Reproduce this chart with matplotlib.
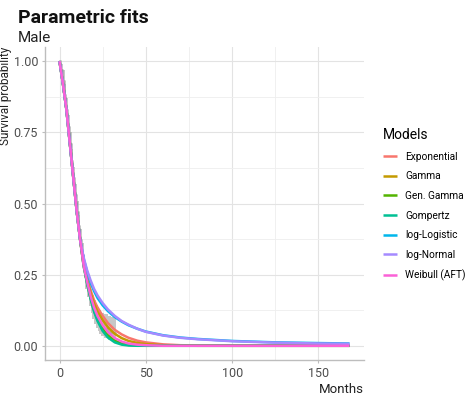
import matplotlib
matplotlib.use("Agg")
import matplotlib.pyplot as plt

plt.rcParams['font.family'] = ['Roboto', 'DejaVu Sans']

# fitted survival curves
t = [0, 2, 4, 6, 8, 10, 12, 14, 16, 18, 20, 22, 25, 28, 32, 36, 40, 45, 50,
     60, 70, 80, 100, 125, 150, 168]
head = [1.00, 0.92, 0.83, 0.71, 0.59, 0.47, 0.37]
s_exponential = head + [0.29, 0.24, 0.195, 0.16, 0.135, 0.105, 0.08, 0.056, 0.04, 0.028,
                        0.018, 0.012, 0.005, 0.002, 0.001, 0.0, 0.0, 0.0, 0.0]
s_gamma = head + [0.285, 0.23, 0.185, 0.148, 0.12, 0.09, 0.065, 0.042, 0.027, 0.017,
                  0.010, 0.006, 0.002, 0.0005, 0.0, 0.0, 0.0, 0.0, 0.0]
s_gengamma = head + [0.28, 0.22, 0.168, 0.125, 0.093, 0.06, 0.037, 0.018, 0.008, 0.003,
                     0.001, 0.0, 0.0, 0.0, 0.0, 0.0, 0.0, 0.0, 0.0]
s_gompertz = head + [0.28, 0.218, 0.165, 0.12, 0.087, 0.052, 0.029, 0.012, 0.004, 0.001,
                     0.0, 0.0, 0.0, 0.0, 0.0, 0.0, 0.0, 0.0, 0.0]
s_loglogistic = head + [0.305, 0.26, 0.222, 0.192, 0.168, 0.142, 0.122, 0.101, 0.085, 0.072,
                        0.06, 0.05, 0.037, 0.029, 0.024, 0.017, 0.012, 0.0095, 0.008]
s_lognormal = head + [0.31, 0.265, 0.23, 0.20, 0.177, 0.15, 0.128, 0.105, 0.087, 0.074,
                      0.06, 0.049, 0.036, 0.028, 0.023, 0.016, 0.011, 0.008, 0.007]
s_weibull = head + [0.28, 0.225, 0.175, 0.135, 0.105, 0.072, 0.048, 0.027, 0.015, 0.008,
                    0.004, 0.002, 0.0, 0.0, 0.0, 0.0, 0.0, 0.0, 0.0]

models = ["Exponential", "Gamma", "Gen. Gamma", "Gompertz", "log-Logistic",
          "log-Normal", "Weibull (AFT)"]
curves = [s_exponential, s_gamma, s_gengamma, s_gompertz, s_loglogistic,
          s_lognormal, s_weibull]
colors = ["#F8766D", "#C49A00", "#53B400", "#00C094", "#00B6EB", "#A58AFF", "#FB61D7"]

# Kaplan-Meier estimate with confidence band
km_t = [0, 1, 2, 3, 4, 5, 6, 7, 8, 9, 10, 11, 12, 13, 14, 15, 16, 17, 18, 19, 20,
        21, 22, 23, 24, 26, 28, 30, 33]
km_s = [1.0, 0.97, 0.93, 0.88, 0.83, 0.77, 0.71, 0.65, 0.59, 0.53, 0.47, 0.42, 0.37,
        0.32, 0.28, 0.24, 0.21, 0.18, 0.155, 0.135, 0.115, 0.10, 0.09, 0.08, 0.07,
        0.06, 0.05, 0.045, 0.04]
km_lo = [1.0, 0.94, 0.89, 0.84, 0.79, 0.73, 0.67, 0.61, 0.55, 0.49, 0.43, 0.38, 0.33,
         0.28, 0.24, 0.20, 0.17, 0.14, 0.115, 0.095, 0.075, 0.062, 0.052, 0.043, 0.035,
         0.028, 0.022, 0.018, 0.015]
km_hi = [1.0, 0.99, 0.97, 0.92, 0.87, 0.81, 0.75, 0.69, 0.63, 0.57, 0.51, 0.46, 0.41,
         0.36, 0.32, 0.28, 0.25, 0.22, 0.20, 0.18, 0.16, 0.145, 0.135, 0.125, 0.115,
         0.11, 0.105, 0.10, 0.10]

fig = plt.figure(figsize=(4.74, 3.95), dpi=100)
ax = fig.add_axes([0.095, 0.0886, 0.673, 0.7924])

ax.fill_between(km_t, km_lo, km_hi, step="post", color="#b0b0b0", alpha=0.7, lw=0)
ax.step(km_t, km_s, where="post", color="#9e9e9e", lw=1.2, alpha=0.7)

for name, s, c in zip(models, curves, colors):
    ax.plot(t, s, color=c, lw=1.8, label=name, solid_capstyle="butt")

ax.set_xlim(-8.4, 176.4)
ax.set_ylim(-0.05, 1.05)
ax.set_xticks([0, 50, 100, 150])
ax.set_yticks([0, 0.25, 0.5, 0.75, 1.0])
ax.set_yticklabels(["0.00", "0.25", "0.50", "0.75", "1.00"])
ax.set_xticks([25, 75, 125], minor=True)
ax.set_yticks([0.125, 0.375, 0.625, 0.875], minor=True)
ax.grid(which="major", color="#e3e3e3", lw=0.8)
ax.grid(which="minor", color="#eeeeee", lw=0.6)
ax.set_axisbelow(True)

for side in ["top", "right"]:
    ax.spines[side].set_visible(False)
for side in ["left", "bottom"]:
    ax.spines[side].set_color("#bdbdbd")
    ax.spines[side].set_linewidth(1.0)
ax.tick_params(which="major", length=2.5, color="#bdbdbd", labelsize=9,
               labelcolor="#4d4d4d", pad=2.5)
ax.tick_params(which="minor", length=0)

ax.set_xlabel("Months", fontsize=9.5, color="#222222", loc="right", labelpad=2)
ax.set_ylabel("Survival probability", fontsize=8.5, color="#222222", loc="top")
ax.yaxis.set_label_coords(-0.103, 1.0)

fig.text(0.038, 0.955, "Parametric fits", fontsize=14, fontweight="bold",
         va="center", ha="left", color="#111111")
fig.text(0.038, 0.905, "Male", fontsize=11, va="center", ha="left", color="#222222")

leg = ax.legend(loc="upper left", bbox_to_anchor=(1.03, 0.77), frameon=False,
                title="Models", fontsize=7.3, title_fontsize=10, handlelength=1.4,
                labelspacing=0.95, handletextpad=0.8, alignment="left")

fig.savefig("out.png", dpi=100)
